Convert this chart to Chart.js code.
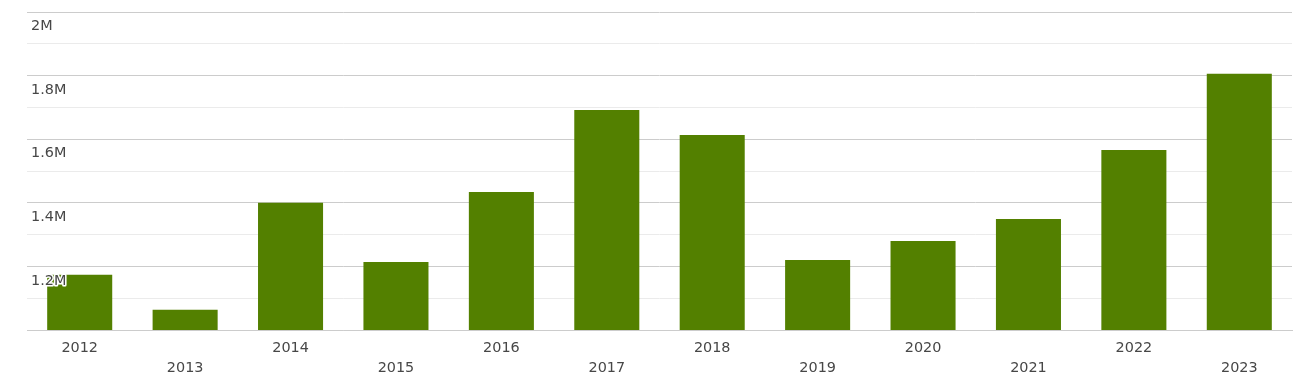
<!DOCTYPE html>
<html>
<head>
<meta charset="utf-8">
<script src="https://cdn.jsdelivr.net/npm/chart.js@4/dist/chart.umd.min.js"></script>
<style>
  html, body { margin: 0; padding: 0; background: #fff; }
  #wrap { width: 1293px; height: 384px; position: relative; }
</style>
</head>
<body>
<div id="wrap"><canvas id="myChart"></canvas></div>
<script>
    "use strict";

    const years = ['2012', '2013', '2014', '2015', '2016', '2017', '2018', '2019', '2020', '2021', '2022', '2023'];
    const values = [1174000, 1064000, 1400000, 1214000, 1434000, 1692000, 1613000, 1220000, 1280000, 1349000, 1566000, 1806000];
    const yLabelValues = [1200000, 1400000, 1600000, 1800000, 2000000];
    const yLabelTexts = ['1.2M', '1.4M', '1.6M', '1.8M', '2M'];

    const textColor = '#474747';

    // y labels sit inside the plot, just under their gridline, on top of the bars
    const insideYLabels = {
        id: 'insideYLabels',
        afterDatasetsDraw(chart) {
            const ctx = chart.ctx;
            const y = chart.scales.y;
            ctx.save();
            ctx.font = '14.4px "DejaVu Sans"';
            ctx.textAlign = 'left';
            ctx.textBaseline = 'middle';
            ctx.lineJoin = 'round';
            yLabelValues.forEach((v, i) => {
                const py = y.getPixelForValue(v) + 14.5;
                const px = 31;
                ctx.strokeStyle = '#fff';
                ctx.lineWidth = 3;
                ctx.strokeText(yLabelTexts[i], px, py);
                ctx.fillStyle = textColor;
                ctx.fillText(yLabelTexts[i], px, py);
            });
            ctx.restore();
        }
    };

    const ctx = document.getElementById('myChart').getContext('2d');
    const chart = new Chart(ctx, {
        type: 'bar',
        data: {
            labels: years,
            datasets: [{
                label: 'Value',
                backgroundColor: '#538000',
                data: values,
                categoryPercentage: 1,
                barPercentage: 0.617
            }]
        },
        options: {
            responsive: true,
            maintainAspectRatio: false,
            animation: false,
            layout: {
                padding: { left: 27, top: 12, right: 1, bottom: -2 }
            },
            plugins: {
                legend: { display: false },
                tooltip: { enabled: false }
            },
            scales: {
                x: {
                    grid: { display: false, drawTicks: false },
                    border: { display: true, color: '#ccc' },
                    ticks: {
                        maxRotation: 0,
                        autoSkip: false,
                        padding: 8,
                        color: textColor,
                        font: { family: 'DejaVu Sans', size: 14.4, lineHeight: '20px' },
                        callback: function (val, i) {
                            return i % 2 === 0 ? [years[i]] : ['', years[i]];
                        }
                    }
                },
                y: {
                    min: 1000000,
                    max: 2000000,
                    ticks: { display: false, stepSize: 100000 },
                    border: { display: false },
                    grid: {
                        drawTicks: false,
                        color: function (c) {
                            return Math.round(c.tick.value / 100000) % 2 === 0 ? '#cccccc' : '#ebebeb';
                        }
                    }
                }
            }
        },
        plugins: [insideYLabels]
    });
</script>
</body>
</html>
